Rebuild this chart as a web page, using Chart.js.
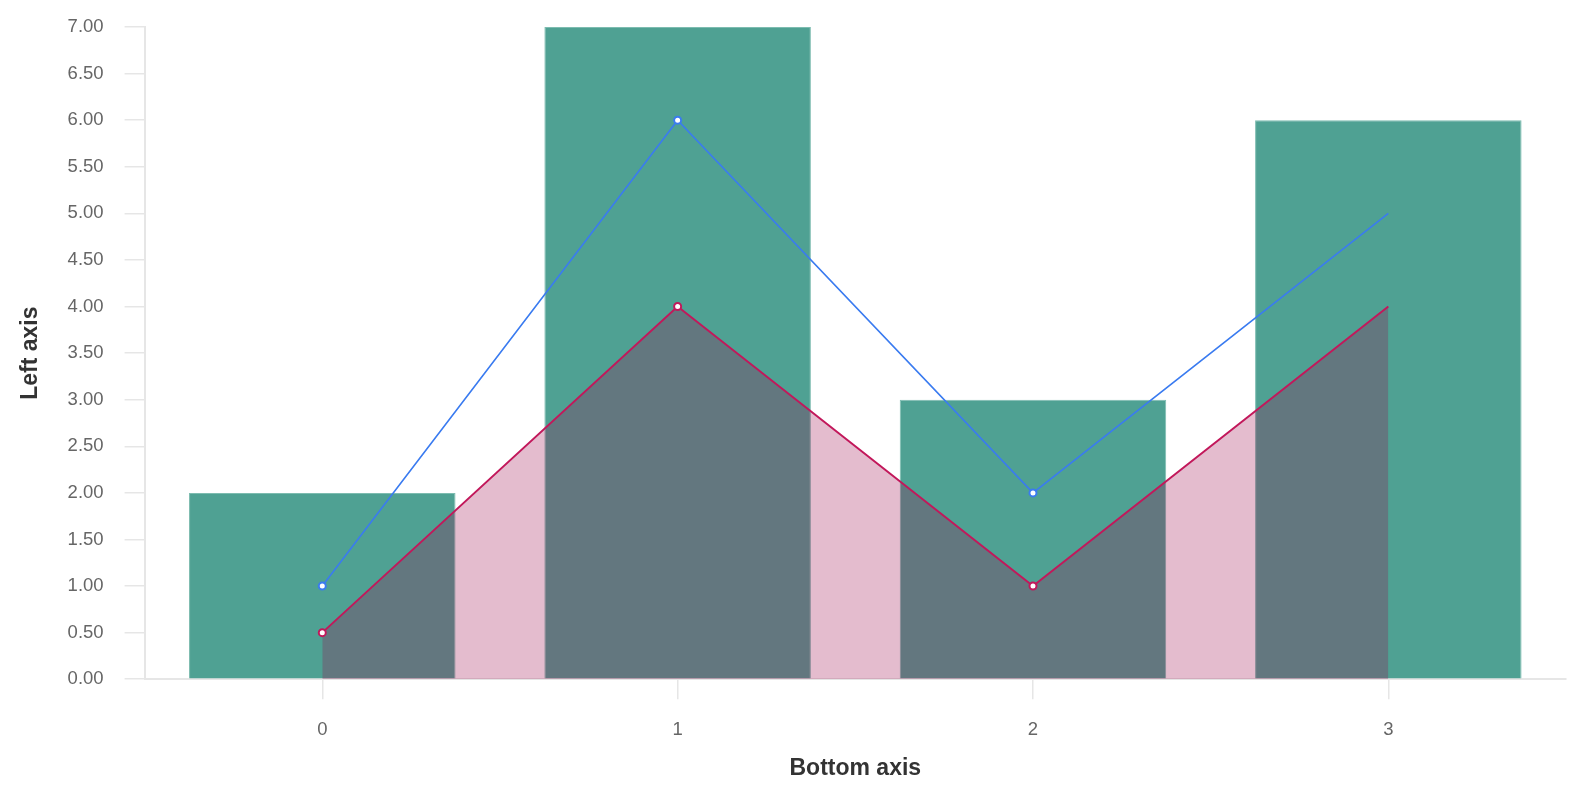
<!DOCTYPE html>
<html>
<head>
<meta charset="utf-8">
<script src="https://cdn.jsdelivr.net/npm/chart.js@4"></script>
<style>
  html, body { margin: 0; padding: 0; background: #ffffff; }
  #wrap { width: 1592px; height: 796px; position: relative; }
</style>
</head>
<body>
<div id="wrap"><canvas id="c"></canvas></div>
<script>
const categories = ['0', '1', '2', '3'];
const barValues = [2, 7, 3, 6];
const blueValues = [1, 6, 2, 5];
const redValues = [0.5, 4, 1, 4];
const yMin = 0;
const yMax = 7;
const yStep = 0.5;
const xTitle = 'Bottom axis';
const yTitle = 'Left axis';

const FONT = "'Liberation Sans', Arial, Helvetica, sans-serif";
const gridColor = '#e6e6e6';

new Chart(document.getElementById('c'), {
  type: 'bar',
  data: {
    labels: categories,
    datasets: [
      {
        type: 'bar',
        data: barValues,
        backgroundColor: '#4fa193',
        borderColor: '#7dbcb0',
        borderWidth: 1,
        categoryPercentage: 1,
        barPercentage: 0.75,
        order: 3
      },
      {
        type: 'line',
        data: blueValues,
        borderColor: '#3a7bf0',
        borderWidth: 1.6,
        pointRadius: [3.5, 3.5, 3.5, 0],
        pointBackgroundColor: '#ffffff',
        pointBorderColor: '#3a7bf0',
        pointBorderWidth: 2,
        tension: 0,
        fill: false,
        order: 2
      },
      {
        type: 'line',
        data: redValues,
        borderColor: '#c2185b',
        borderWidth: 2,
        pointRadius: [3.5, 3.5, 3.5, 0],
        pointBackgroundColor: '#ffffff',
        pointBorderColor: '#c2185b',
        pointBorderWidth: 2,
        backgroundColor: 'rgba(155, 8, 75, 0.27)',
        tension: 0,
        fill: 'origin',
        order: 1
      }
    ]
  },
  options: {
    responsive: true,
    maintainAspectRatio: false,
    animation: false,
    devicePixelRatio: 1,
    layout: { padding: { top: 27, right: 26, bottom: 0, left: 17 } },
    plugins: {
      legend: { display: false },
      tooltip: { enabled: false }
    },
    scales: {
      x: {
        offset: true,
        grid: {
          offset: false,
          drawOnChartArea: false,
          drawTicks: true,
          tickLength: 20,
          color: gridColor,
          lineWidth: 1.5
        },
        border: { display: true, color: gridColor, width: 2 },
        ticks: {
          color: '#666666',
          padding: 26,
          font: { family: FONT, size: 18.5, lineHeight: 0.55 }
        },
        title: {
          display: true,
          text: xTitle,
          color: '#333333',
          padding: { top: -7, bottom: 14 },
          font: { family: FONT, size: 23, weight: 'bold' }
        }
      },
      y: {
        min: yMin,
        max: yMax,
        grid: {
          drawOnChartArea: false,
          drawTicks: true,
          tickLength: 20,
          color: gridColor,
          lineWidth: 1.5
        },
        border: { display: true, color: gridColor, width: 2 },
        ticks: {
          stepSize: yStep,
          color: '#666666',
          padding: 21,
          font: { family: FONT, size: 18.5, lineHeight: 0.6 },
          callback: (v) => Number(v).toFixed(2)
        },
        title: {
          display: true,
          text: yTitle,
          color: '#333333',
          padding: { top: 0, bottom: 2 },
          font: { family: FONT, size: 23, weight: 'bold' }
        }
      }
    }
  }
});
</script>
</body>
</html>
